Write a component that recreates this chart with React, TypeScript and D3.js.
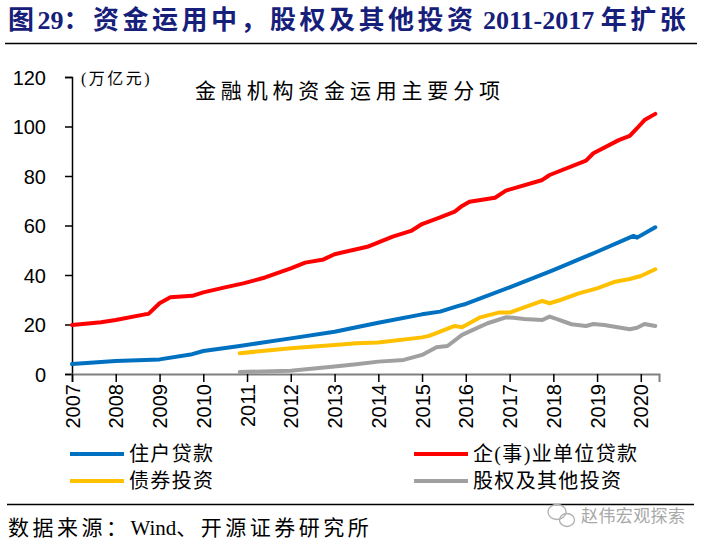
import * as d3 from "d3";
import { useEffect, useRef } from "react";

// 企(事)业单位贷款
const corpDates = ["2007-01", "2007-09", "2008-01", "2008-09", "2008-10", "2009-01", "2009-04", "2009-10", "2010-01", "2010-07", "2010-12", "2011-06", "2012-01", "2012-05", "2012-10", "2013-01", "2013-10", "2014-05", "2014-10", "2015-01", "2015-06", "2015-10", "2015-12", "2016-02", "2016-09", "2016-12", "2017-10", "2017-12", "2018-10", "2018-12", "2019-07", "2019-10", "2019-12", "2020-02", "2020-05"];
const corpValues = [19.8, 20.9, 21.8, 24.1, 24.3, 28.6, 31.0, 31.6, 33.0, 35.0, 36.6, 39.0, 42.7, 45.0, 46.3, 48.4, 51.4, 55.5, 57.8, 60.6, 63.3, 65.6, 67.9, 69.6, 71.2, 74.1, 78.4, 80.4, 86.2, 89.2, 94.5, 96.2, 99.3, 102.6, 105.1];

// 住户贷款
const householdDates = ["2007-01", "2008-01", "2009-01", "2009-10", "2010-01", "2010-11", "2011-04", "2012-01", "2013-01", "2014-01", "2015-01", "2015-06", "2015-11", "2016-01", "2017-01", "2018-01", "2019-01", "2019-11", "2019-12", "2020-05"];
const householdValues = [4.0, 5.3, 5.9, 8.0, 9.3, 11.3, 12.4, 14.4, 17.1, 20.7, 24.1, 25.2, 27.5, 28.3, 35.0, 42.0, 49.4, 55.8, 55.1, 59.3];

// 债券投资
const bondDates = ["2010-11", "2012-01", "2013-01", "2013-07", "2014-01", "2015-01", "2015-03", "2015-06", "2015-10", "2015-12", "2016-05", "2016-10", "2017-01", "2017-10", "2017-12", "2018-03", "2018-08", "2019-01", "2019-06", "2019-10", "2020-01", "2020-05"];
const bondValues = [8.4, 10.4, 11.7, 12.4, 12.7, 14.8, 15.4, 17.1, 19.4, 18.9, 22.9, 24.8, 24.8, 29.5, 28.6, 29.9, 32.6, 34.6, 37.3, 38.4, 39.6, 42.3];

// 股权及其他投资
const equityDates = ["2010-11", "2012-01", "2013-01", "2013-07", "2014-01", "2014-08", "2015-01", "2015-05", "2015-08", "2015-12", "2016-03", "2016-07", "2016-12", "2017-02", "2017-05", "2017-10", "2017-12", "2018-02", "2018-06", "2018-10", "2018-12", "2019-03", "2019-10", "2019-12", "2020-02", "2020-05"];
const equityValues = [0.8, 1.3, 3.0, 3.9, 5.0, 5.7, 7.7, 10.8, 11.3, 15.8, 17.8, 20.5, 22.9, 22.7, 22.2, 21.8, 23.2, 22.2, 20.1, 19.4, 20.2, 19.8, 18.1, 18.7, 20.2, 19.4];

const yTicks = [0, 20, 40, 60, 80, 100, 120];
const yearTicks = [2007, 2008, 2009, 2010, 2011, 2012, 2013, 2014, 2015, 2016, 2017, 2018, 2019, 2020];

const series = [
  { name: "住户贷款", dates: householdDates, values: householdValues, color: "#0070C0" },
  { name: "企(事)业单位贷款", dates: corpDates, values: corpValues, color: "#FF0000" },
  { name: "债券投资", dates: bondDates, values: bondValues, color: "#FFC000" },
  { name: "股权及其他投资", dates: equityDates, values: equityValues, color: "#A0A0A0" },
];

const CJK = "'Liberation Serif', 'Noto Sans CJK SC', serif";

export default function App() {
  const ref = useRef<SVGSVGElement>(null);

  useEffect(() => {
    document.body.style.margin = "0";
    if (!ref.current) return;
    const svg = d3.select(ref.current);
    svg.selectAll("*").remove();

    const W = 701;
    const H = 545;
    svg.attr("width", W).attr("height", H).attr("viewBox", `0 0 ${W} ${H}`);
    svg.append("rect").attr("width", W).attr("height", H).attr("fill", "#fff");

    const parse = d3.timeParse("%Y-%m")!;

    // title: CJK parts spaced wider, Latin parts tight
    const title = svg.append("text")
      .attr("x", 8)
      .attr("y", 29)
      .attr("font-family", CJK)
      .attr("font-weight", 700)
      .attr("font-size", 26)
      .attr("fill", "#16207a");
    [
      ["图", 3.5],
      ["29", 0],
      ["：资金运用中，股权及其他投资", 3.5],
      [" 2011-2017 ", 0],
      ["年扩张", 3.5],
    ].forEach(([t, ls]) => title.append("tspan").attr("letter-spacing", ls as number).text(t as string));
    svg.append("line").attr("x1", 5).attr("x2", 697).attr("y1", 43.5).attr("y2", 43.5).attr("stroke", "#000").attr("stroke-width", 1.5);

    const x = d3.scaleTime().domain([parse("2007-01")!, parse("2020-06")!]).range([72, 659]);
    const y = d3.scaleLinear().domain([0, 120]).range([374, 77]);

    // y axis
    const gy = svg.append("g").attr("transform", "translate(72,0)");
    gy.call(d3.axisLeft(y).tickValues(yTicks).tickSize(7).tickPadding(18));
    gy.select(".domain").attr("stroke", "#000").attr("stroke-width", 1.5);
    gy.selectAll(".tick line").attr("stroke", "#000").attr("stroke-width", 1.5);
    gy.selectAll(".tick text")
      .attr("font-family", "'Liberation Sans', Arial, sans-serif")
      .attr("font-size", 20)
      .attr("fill", "#000")
      .attr("dx", -1)
      .attr("dy", "0.36em");

    // x axis
    const gx = svg.append("g").attr("transform", "translate(0,374)");
    gx.call(d3.axisBottom(x).tickValues(yearTicks.map(yr => new Date(yr, 0, 1))).tickSize(8).tickFormat(d => d3.timeFormat("%Y")(d as Date)));
    gx.select(".domain").attr("stroke", "#808080").attr("stroke-width", 2);
    gx.selectAll(".tick line").attr("stroke", "#000").attr("stroke-width", 1.5);
    gx.selectAll(".tick text")
      .attr("font-family", "'Liberation Sans', Arial, sans-serif")
      .attr("font-size", 20)
      .attr("fill", "#000")
      .attr("text-anchor", "end")
      .attr("transform", "translate(7,10) rotate(-90)")
      .attr("x", 0)
      .attr("y", 0)
      .attr("dy", 0);

    // labels
    svg.append("text")
      .attr("x", 81)
      .attr("y", 84)
      .attr("font-family", CJK)
      .attr("font-size", 16)
      .attr("letter-spacing", 2.5)
      .text("(万亿元)");
    svg.append("text")
      .attr("x", 195)
      .attr("y", 98)
      .attr("font-family", CJK)
      .attr("font-size", 21)
      .attr("textLength", 305)
      .attr("lengthAdjust", "spacing")
      .text("金融机构资金运用主要分项");

    // lines
    const line = d3.line<{ d: Date; v: number }>()
      .x(p => x(p.d))
      .y(p => y(p.v));
    series.forEach(s => {
      const pts = s.dates.map((dt, i) => ({ d: parse(dt)!, v: s.values[i] }));
      svg.append("path")
        .datum(pts)
        .attr("d", line)
        .attr("fill", "none")
        .attr("stroke", s.color)
        .attr("stroke-width", 4)
        .attr("stroke-linejoin", "round")
        .attr("stroke-linecap", "round");
    });

    // legend
    const legendPos = [
      { lx: 70, ly: 454 },
      { lx: 414, ly: 454 },
      { lx: 70, ly: 481 },
      { lx: 414, ly: 481 },
    ];
    const legendW = [84, 164, 84, 148];
    series.forEach((s, i) => {
      const p = legendPos[i];
      svg.append("line")
        .attr("x1", p.lx).attr("x2", p.lx + 54)
        .attr("y1", p.ly).attr("y2", p.ly)
        .attr("stroke", s.color).attr("stroke-width", 4);
      svg.append("text")
        .attr("x", p.lx + 59)
        .attr("y", p.ly + 7)
        .attr("font-family", CJK)
        .attr("font-size", 20)
        .attr("textLength", legendW[i])
        .attr("lengthAdjust", "spacing")
        .text(s.name);
    });

    // footer
    svg.append("line").attr("x1", 7).attr("x2", 694).attr("y1", 504.5).attr("y2", 504.5).attr("stroke", "#000").attr("stroke-width", 1.5);
    const foot = svg.append("text")
      .attr("x", 8)
      .attr("y", 535)
      .attr("font-family", CJK)
      .attr("font-size", 21);
    [
      ["数据来源：", 3.5],
      ["Wind", 0],
      ["、开源证券研究所", 3.5],
    ].forEach(([t, ls]) => foot.append("tspan").attr("letter-spacing", ls as number).text(t as string));

    // watermark
    const wm = svg.append("g").attr("fill", "none").attr("stroke", "#b0b0b0").attr("stroke-width", 1.3);
    wm.append("ellipse").attr("cx", 557).attr("cy", 512).attr("rx", 9).attr("ry", 7.5);
    wm.append("ellipse").attr("cx", 567).attr("cy", 520).attr("rx", 7.5).attr("ry", 6.5);
    svg.append("text")
      .attr("x", 581)
      .attr("y", 522)
      .attr("font-family", "'Noto Sans CJK SC', sans-serif")
      .attr("font-size", 17)
      .attr("fill", "#a8a8a8")
      .attr("textLength", 104)
      .attr("lengthAdjust", "spacing")
      .text("赵伟宏观探索");
  }, []);

  return <svg ref={ref} style={{ display: "block" }} />;
}
